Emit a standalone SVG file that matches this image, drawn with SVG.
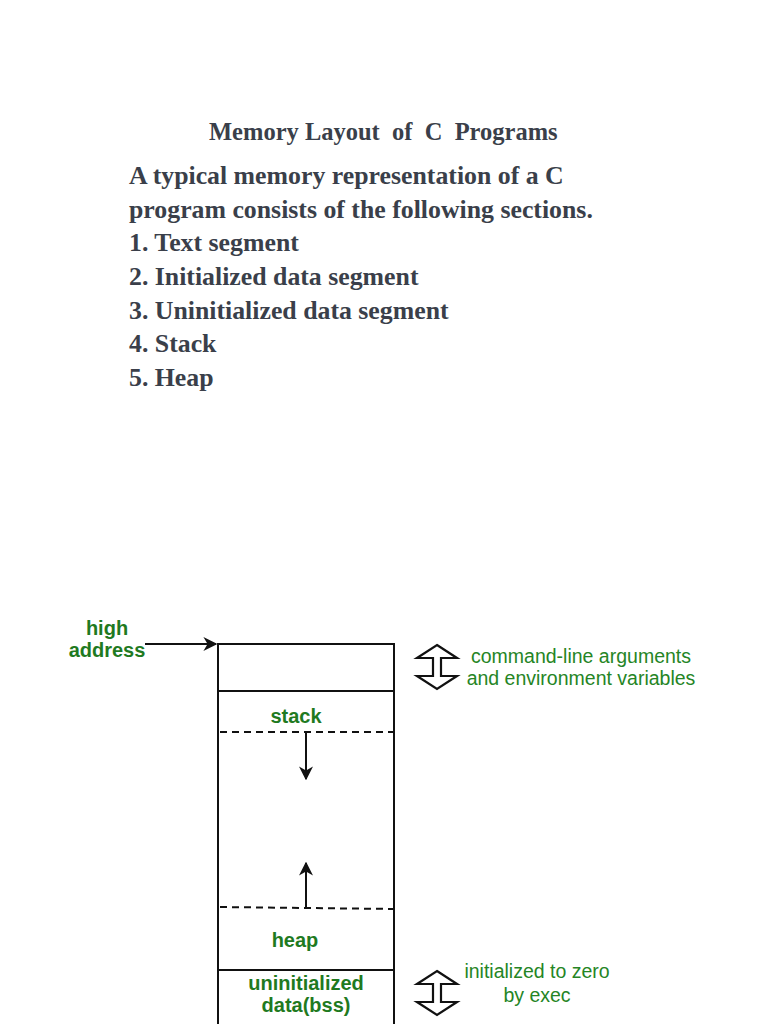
<svg xmlns="http://www.w3.org/2000/svg" width="768" height="1024" viewBox="0 0 768 1024">
<style>
.t{font-family:"Liberation Serif",serif;font-weight:bold;fill:#3a3f4a;white-space:pre}
.g{font-family:"Liberation Sans",Arial,sans-serif;fill:#258525;font-size:19.5px}
.gb{font-family:"Liberation Sans",Arial,sans-serif;fill:#1f7a1f;font-size:20px;font-weight:bold}
.ln{stroke:#111;stroke-width:2;fill:none}
.ds{stroke:#111;stroke-width:2;fill:none;stroke-dasharray:7,5}
.dbl{fill:#fff;stroke:#111;stroke-width:2.2;stroke-linejoin:miter}
</style>
<defs>
<marker id="ah" viewBox="0 0 10 10" refX="9" refY="5" markerWidth="7" markerHeight="7" orient="auto-start-reverse">
<path d="M0,0 L10,5 L0,10 L3,5 z" fill="#111"/>
</marker>
</defs>
<rect width="768" height="1024" fill="#fff"/>
<g id="heading">
<text class="t" x="209" y="140" font-size="24.5" xml:space="preserve">Memory Layout  of  C  Programs</text>
<text class="t" x="129" y="184" font-size="25.8">A typical memory representation of a C</text>
<text class="t" x="129" y="218" font-size="25.8">program consists of the following sections.</text>
<text class="t" x="129" y="251" font-size="25.8">1. Text segment</text>
<text class="t" x="129" y="285" font-size="25.8">2. Initialized data segment</text>
<text class="t" x="129" y="319" font-size="25.8">3. Uninitialized data segment</text>
<text class="t" x="129" y="352" font-size="25.8">4. Stack</text>
<text class="t" x="129" y="386" font-size="25.8">5. Heap</text>
</g>
<g id="memory-box">
<path class="ln" d="M218,1030 V644 H394 V1030"/>
<line class="ln" x1="218" y1="691" x2="394" y2="691"/>
<line class="ln" x1="218" y1="970" x2="394" y2="970"/>
</g>
<g id="stack">
<line class="ds" x1="220" y1="732" x2="394" y2="732"/>
<text class="gb" x="296" y="723" text-anchor="middle">stack</text>
</g>
<g id="heap">
<line class="ds" x1="220" y1="907" x2="394" y2="909"/>
<text class="gb" x="295" y="947" text-anchor="middle">heap</text>
</g>
<g id="bss">
<text class="gb" x="306" y="990" text-anchor="middle">uninitialized</text>
<text class="gb" x="306" y="1012" text-anchor="middle">data(bss)</text>
</g>
<g id="high-address">
<text class="gb" x="107" y="635" text-anchor="middle">high</text>
<text class="gb" x="107" y="657" text-anchor="middle">address</text>
</g>
<g id="cmdline">
<text class="g" x="581" y="663" text-anchor="middle">command-line arguments</text>
<text class="g" x="581" y="685" text-anchor="middle">and environment variables</text>
</g>
<g id="init-zero">
<text class="g" x="537" y="978" text-anchor="middle">initialized to zero</text>
<text class="g" x="537" y="1002" text-anchor="middle">by exec</text>
</g>
<g id="connectors">
<line class="ln" x1="145" y1="644" x2="216" y2="644" marker-end="url(#ah)"/>
<line class="ln" x1="306" y1="732" x2="306" y2="779" marker-end="url(#ah)"/>
<line class="ln" x1="306" y1="907" x2="306" y2="863" marker-end="url(#ah)"/>
<path class="dbl" d="M437,645 L457,658 H441 V676 H457 L437,689 L417,676 H433 V658 H417 Z"/>
<path class="dbl" d="M437,971 L457,984 H441 V1002 H457 L437,1015 L417,1002 H433 V984 H417 Z"/>
</g>
</svg>
